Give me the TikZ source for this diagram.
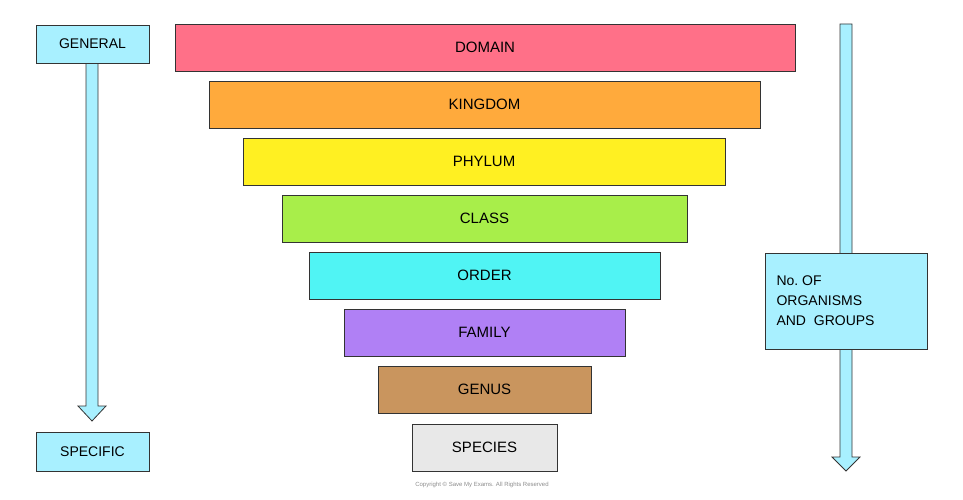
\documentclass[tikz,border=0pt]{standalone}
\usepackage{fontspec}
\setmainfont{Liberation Sans}
\definecolor{cdom}{HTML}{FF7088}
\definecolor{ckin}{HTML}{FFAA3C}
\definecolor{cphy}{HTML}{FFF022}
\definecolor{ccla}{HTML}{A8EE4A}
\definecolor{cord}{HTML}{50F4F4}
\definecolor{cfam}{HTML}{B080F5}
\definecolor{cgen}{HTML}{C9955E}
\definecolor{cspe}{HTML}{E8E8E8}
\definecolor{lblue}{HTML}{A8F0FF}
\tikzset{bar/.style={draw=black!80,line width=0.8pt,font=\fontsize{15}{18}\selectfont},
 lab/.style={draw=black!80,line width=0.8pt,fill=lblue,font=\fontsize{14}{20}\selectfont}}
\begin{document}
\begin{tikzpicture}[x=1pt,y=-1pt]
\useasboundingbox (0,0) rectangle (963,500);
\def\bar#1#2#3#4#5#6{\draw[bar,fill=#6] (#2,#4) rectangle (#3,#4+47);
 \node[font=\fontsize{15}{18}\selectfont] (#1) at ({(#2+#3)/2},#4+23.5) {#5};}
\bar{dom}{175}{795}{24}{DOMAIN}{cdom}
\bar{kin}{209}{760}{81}{KINGDOM}{ckin}
\bar{phy}{243}{725}{138}{PHYLUM}{cphy}
\bar{cla}{282}{687}{195}{CLASS}{ccla}
\bar{ord}{309}{660}{252}{ORDER}{cord}
\bar{fam}{344}{625}{309}{FAMILY}{cfam}
\bar{gen}{378}{591}{366}{GENUS}{cgen}
\bar{spe}{412}{557}{424}{SPECIES}{cspe}
% left arrow
\draw[lab] (86,63) -- (98,63) -- (98,406) -- (106,406) -- (92,421) -- (78,406) -- (86,406) -- cycle;
\draw[lab] (36,25) rectangle (149,63);
\node[font=\fontsize{14}{20}\selectfont] (gen) at (92.5,44) {GENERAL};
\draw[lab] (36,432) rectangle (149,471);
\node[font=\fontsize{14}{20}\selectfont] (spec) at (92.5,451.5) {SPECIFIC};
% right arrow
\draw[lab] (840,24) -- (852,24) -- (852,457) -- (860,457) -- (846,471) -- (832,457) -- (840,457) -- cycle;
\draw[lab] (765,253) rectangle (927,349);
\node[font=\fontsize{14}{20}\selectfont,align=left,anchor=west] (num) at (773,301) {No.\ OF\\ORGANISMS\\AND\ \ GROUPS};
\node[font=\fontsize{6}{7}\selectfont,text=black!45] (copy) at (482,485) {Copyright © Save My Exams. All Rights Reserved};
\end{tikzpicture}
\end{document}
